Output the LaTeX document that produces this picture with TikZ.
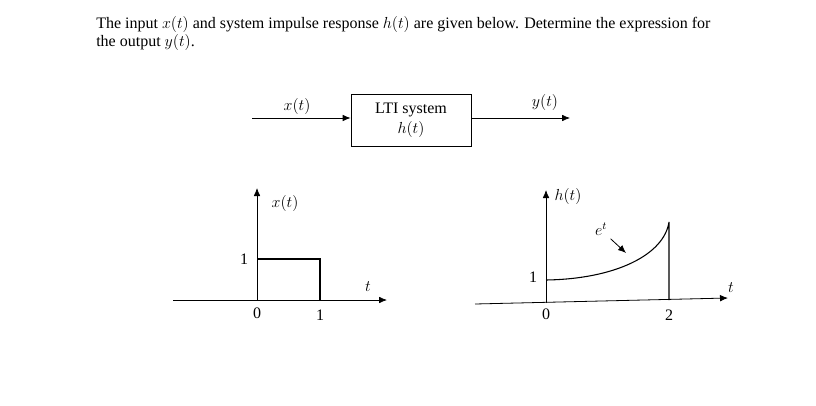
\documentclass[tikz,border=0pt]{standalone}
\usepackage{fontspec}
\setmainfont{Liberation Serif}
\usetikzlibrary{arrows.meta}
\tikzset{
  sig/.style={line width=0.6pt,-{Latex[length=6pt,width=5pt]}},
  plotline/.style={line width=0.8pt},
  lbl/.style={inner sep=1pt,font=\fontsize{12}{14}\selectfont}
}
\begin{document}
\begin{tikzpicture}[x=0.75pt,y=-0.75pt]
    \useasboundingbox (0,0) rectangle (816,406);

    % Question text
    \node[anchor=north west,inner sep=0pt,align=left,font=\fontsize{12}{13.6}\selectfont] (question) at (96,16)
      {The input $x(t)$ and system impulse response $h(t)$ are given below. Determine the expression for\\
       the output $y(t)$.};

    % Block diagram
    \node[draw,line width=0.6pt,minimum width=90pt,minimum height=39pt,align=center,
          font=\fontsize{12}{15}\selectfont] (lti) at (411,120) {LTI system\\$h(t)$};
    \coordinate (xin) at (252,118);
    \coordinate (yout) at (570,118);
    \draw[sig] (xin) -- (xin -| lti.west);
    \draw[sig] (yout -| lti.east) -- (yout);
    \node[lbl] (xlab) at (297,107) {$x(t)$};
    \node[lbl] (ylab) at (545,103) {$y(t)$};

    % Plot of x(t)
    \coordinate (xo) at (257,300);
    \coordinate (xl) at (173,300);
    \coordinate (xr) at (387,300);
    \coordinate (xtop) at (257,188);
    \draw[sig] (xl) -- (xr);
    \draw[sig] (xo) -- (xtop);
    \draw[plotline] (257,259) -- (320,259) -- (320,300);
    \node[lbl] (xone) at (244,259) {1};
    \node[lbl] (xzero) at (257,313) {0};
    \node[lbl] (xonet) at (320,315) {1};
    \node[lbl] (xt) at (368,287) {$t$};
    \node[lbl] (xname) at (285,203) {$x(t)$};

    % Plot of h(t)
    \coordinate (ho) at (546,303);
    \coordinate (hl) at (475,304);
    \coordinate (hr) at (728,298);
    \coordinate (htop) at (546,190);
    \draw[sig] (hl) -- (hr);
    \draw[sig] (ho) -- (htop);
    \draw[plotline] (546,280) .. controls (615,279) and (664,255) .. (669,222) -- (669,300);
    \node[lbl] (hone) at (533,277) {1};
    \node[lbl] (hzero) at (546,314) {0};
    \node[lbl] (htwo) at (669,315) {2};
    \node[lbl] (ht) at (731,288) {$t$};
    \node[lbl] (hname) at (568,196) {$h(t)$};
    \node[lbl] (exp) at (601,229) {$e^t$};
    \coordinate (exptip) at (626,253);
    \draw[sig] (exp.south east) ++(2,2) -- (exptip);
\end{tikzpicture}
\end{document}
